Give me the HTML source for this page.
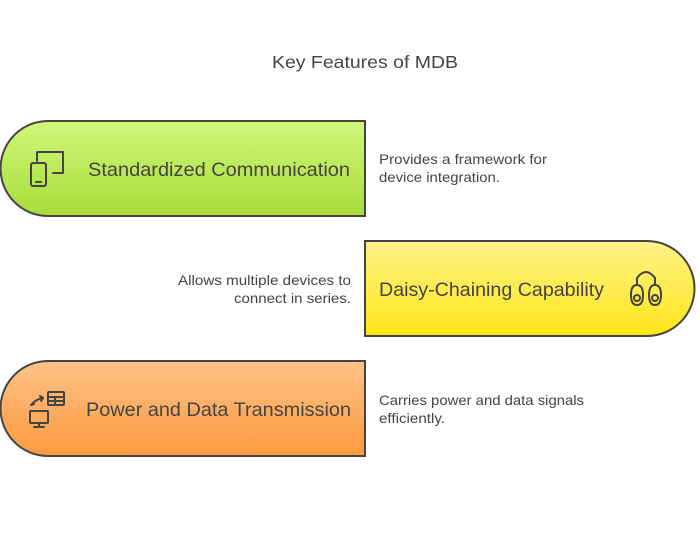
<!DOCTYPE html>
<html><head><style>
body{margin:0;width:700px;height:530px;background:#fff;font-family:"Liberation Sans",sans-serif;overflow:hidden}
</style></head><body>
<svg width="700" height="530" xmlns="http://www.w3.org/2000/svg">
<defs>
<linearGradient id="g1" x1="0" y1="0" x2="0" y2="1"><stop offset="0" stop-color="#d0f87a"/><stop offset="1" stop-color="#a8dc3a"/></linearGradient>
<linearGradient id="g2" x1="0" y1="0" x2="0" y2="1"><stop offset="0" stop-color="#fff289"/><stop offset="1" stop-color="#ffe619"/></linearGradient>
<linearGradient id="g3" x1="0" y1="0" x2="0" y2="1"><stop offset="0" stop-color="#ffc288"/><stop offset="1" stop-color="#fb9a3e"/></linearGradient>
</defs>
<text x="272" y="68" font-size="17.5" fill="#444" textLength="186" lengthAdjust="spacingAndGlyphs">Key Features of MDB</text>
<path d="M365 121 V216 H48 A47.5 47.5 0 0 1 48 121 Z" fill="url(#g1)" stroke="#444" stroke-width="2"/>
<path d="M365 241 V336 H647 A47.5 47.5 0 0 0 647 241 Z" fill="url(#g2)" stroke="#444" stroke-width="2"/>
<path d="M365 361 V456 H48 A47.5 47.5 0 0 1 48 361 Z" fill="url(#g3)" stroke="#444" stroke-width="2"/>
<g font-size="19.5" fill="#444" lengthAdjust="spacingAndGlyphs">
<text x="88" y="176" textLength="262" lengthAdjust="spacingAndGlyphs">Standardized Communication</text>
<text x="379" y="296" textLength="225" lengthAdjust="spacingAndGlyphs">Daisy-Chaining Capability</text>
<text x="86" y="416" textLength="265" lengthAdjust="spacingAndGlyphs">Power and Data Transmission</text>
</g>
<g font-size="14" fill="#444">
<text x="379" y="164" textLength="168" lengthAdjust="spacingAndGlyphs">Provides a framework for</text>
<text x="379" y="182" textLength="121" lengthAdjust="spacingAndGlyphs">device integration.</text>
<text x="178" y="285" textLength="173" lengthAdjust="spacingAndGlyphs">Allows multiple devices to</text>
<text x="234" y="303" textLength="117" lengthAdjust="spacingAndGlyphs">connect in series.</text>
<text x="379" y="405" textLength="205" lengthAdjust="spacingAndGlyphs">Carries power and data signals</text>
<text x="379" y="423" textLength="66" lengthAdjust="spacingAndGlyphs">efficiently.</text>
</g>
<g fill="none" stroke="#444" stroke-width="2" stroke-linecap="round" stroke-linejoin="round">
<rect x="31" y="163" width="15" height="23" rx="2"/>
<path d="M37 161 V153 Q37 152 38 152 H63 V173 H53"/>
<path d="M36 182 H41"/>
<path d="M637 285 V278 Q646 266 655 278 V285"/>
<path d="M631 295 Q631 285 637 285 Q643 285 643 295 Q643 305 637 305 Q631 305 631 295Z"/>
<circle cx="637" cy="298" r="3"/>
<path d="M649 295 Q649 285 655 285 Q661 285 661 295 Q661 305 655 305 Q649 305 649 295Z"/>
<circle cx="655" cy="298" r="3"/>
<rect x="30" y="411" width="18" height="12" rx="1"/>
<path d="M39 423 V427 M34 427 H44"/>
<rect x="48" y="392" width="16" height="13" rx="1"/>
<path d="M48 397 H64 M48 401 H64 M55 397 V405"/>
<path d="M31 405 Q36 399 43 398 M40 396 L43 398 L41 401 M31 405 L34 404"/>
</g>
</svg>
</body></html>
